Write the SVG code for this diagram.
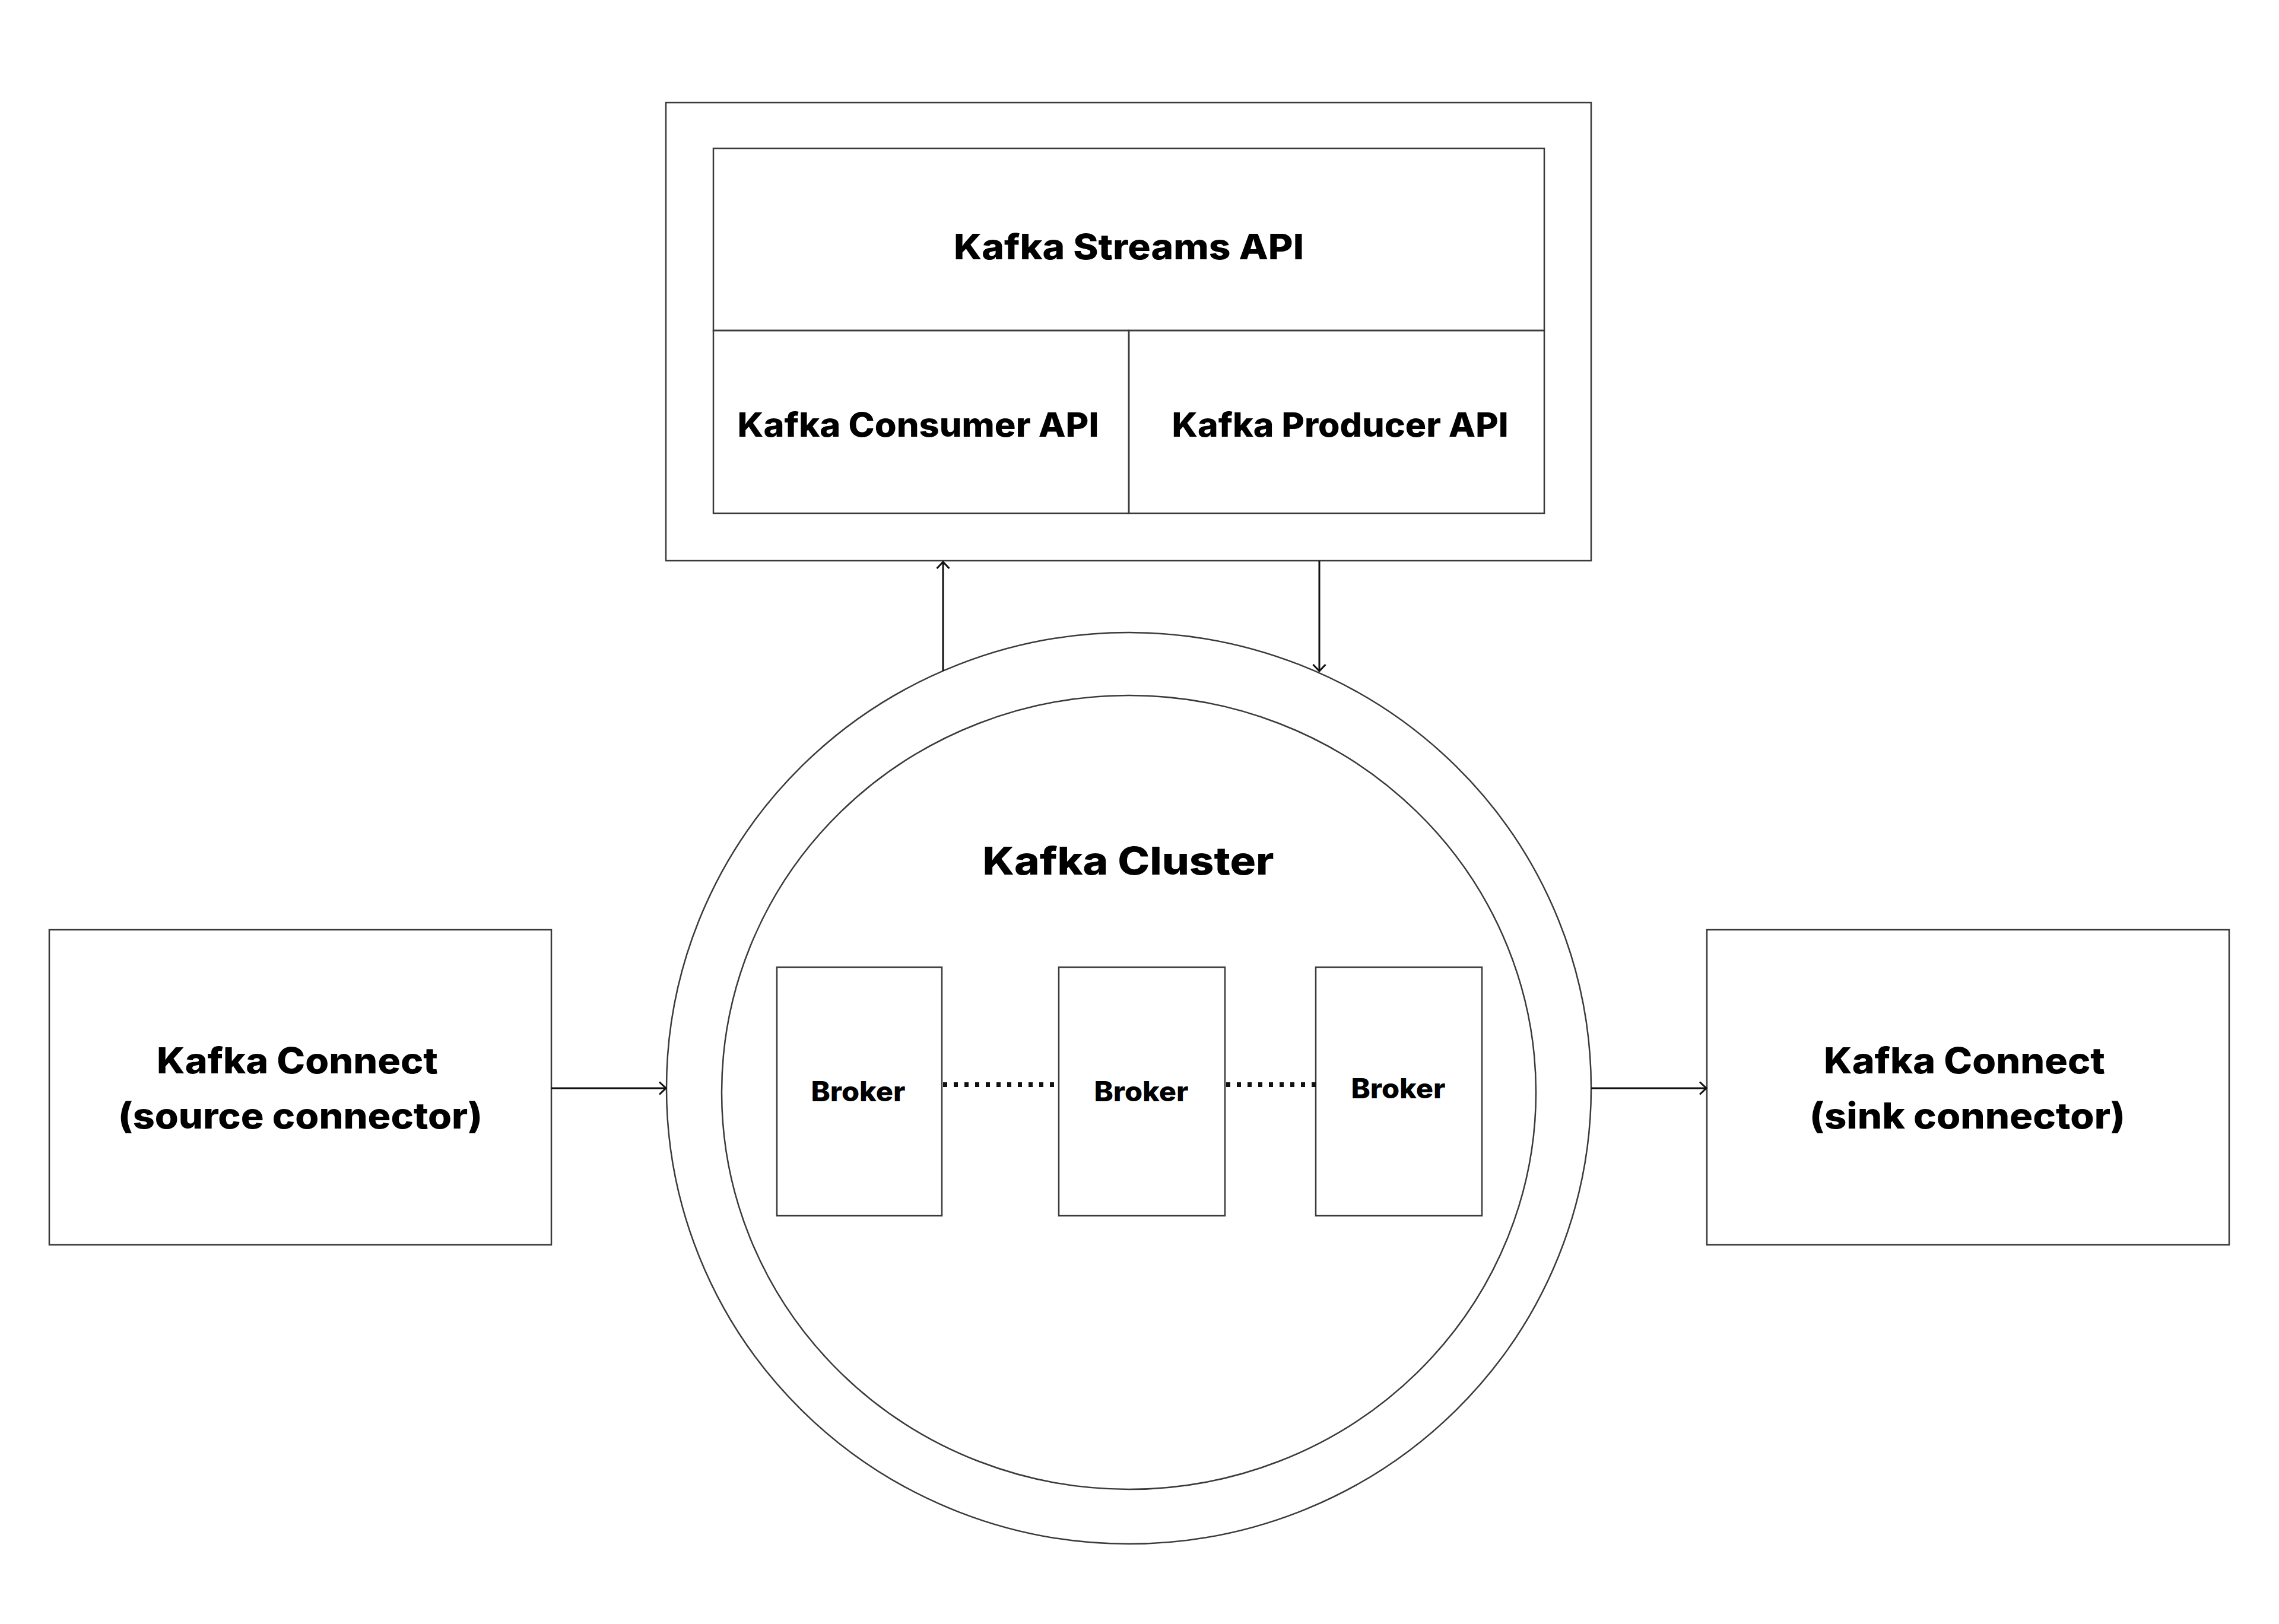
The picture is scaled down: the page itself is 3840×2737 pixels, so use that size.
<svg xmlns="http://www.w3.org/2000/svg" width="3840" height="2737" viewBox="0 0 3840 2737">
<style>
.box{fill:none;stroke:#3a3a3a;stroke-width:2.5}
.ring{fill:none;stroke:#3a3a3a;stroke-width:2.5}
.lbl{font-family:Inter,"Liberation Sans",sans-serif;font-weight:800;fill:#000;text-anchor:middle}
.arrow{fill:none;stroke:#111;stroke-width:3}
.dots{fill:none;stroke:#111;stroke-width:8;stroke-dasharray:7 11}
</style>
<defs>
<marker id="head" markerUnits="userSpaceOnUse" viewBox="0 0 14 24" markerWidth="14" markerHeight="24" refX="12" refY="12" orient="auto">
<path d="M1,1.5 L12,12 L1,22.5" fill="none" stroke="#111" stroke-width="3"/>
</marker>
</defs>
<rect width="3840" height="2737" fill="#fff"/>

<g id="client">
<rect class="box" x="1122" y="173" width="1559" height="772"/>
<g id="streams-api">
<rect class="box" x="1202" y="250" width="1400" height="307"/>
<text class="lbl" x="1902" y="437" font-size="59" textLength="590" lengthAdjust="spacingAndGlyphs">Kafka Streams API</text>
</g>
<g id="consumer-api">
<rect class="box" x="1202" y="557" width="700" height="308"/>
<text class="lbl" x="1547" y="736" font-size="56" textLength="609" lengthAdjust="spacingAndGlyphs">Kafka Consumer API</text>
</g>
<g id="producer-api">
<rect class="box" x="1902" y="557" width="700" height="308"/>
<text class="lbl" x="2258" y="736" font-size="56" textLength="567" lengthAdjust="spacingAndGlyphs">Kafka Producer API</text>
</g>
</g>

<g id="cluster">
<ellipse class="ring" cx="1902" cy="1834" rx="779" ry="768"/>
<ellipse class="ring" cx="1902" cy="1841" rx="686" ry="669"/>
<text class="lbl" x="1901" y="1474" font-size="65" textLength="491" lengthAdjust="spacingAndGlyphs">Kafka Cluster</text>
</g>

<g id="broker1">
<rect class="box" x="1309" y="1630" width="278" height="419"/>
<text class="lbl" x="1446" y="1856" font-size="46" textLength="159" lengthAdjust="spacingAndGlyphs">Broker</text>
</g>
<g id="broker2">
<rect class="box" x="1784" y="1630" width="280" height="419"/>
<text class="lbl" x="1923" y="1856" font-size="46" textLength="159" lengthAdjust="spacingAndGlyphs">Broker</text>
</g>
<g id="broker3">
<rect class="box" x="2217" y="1630" width="280" height="419"/>
<text class="lbl" x="2356" y="1851" font-size="46" textLength="159" lengthAdjust="spacingAndGlyphs">Broker</text>
</g>

<g id="source-connect">
<rect class="box" x="83" y="1567" width="846" height="531"/>
<text class="lbl" x="501" y="1809" font-size="60" textLength="474" lengthAdjust="spacingAndGlyphs">Kafka Connect</text>
<text class="lbl" x="506" y="1902" font-size="60" textLength="614" lengthAdjust="spacingAndGlyphs">(source connector)</text>
</g>

<g id="sink-connect">
<rect class="box" x="2876" y="1567" width="880" height="531"/>
<text class="lbl" x="3310" y="1809" font-size="60" textLength="474" lengthAdjust="spacingAndGlyphs">Kafka Connect</text>
<text class="lbl" x="3315" y="1902" font-size="60" textLength="532" lengthAdjust="spacingAndGlyphs">(sink connector)</text>
</g>

<g id="connectors">
<line class="arrow" x1="1589" y1="1131" x2="1589" y2="947" marker-end="url(#head)"/>
<line class="arrow" x1="2223" y1="945" x2="2223" y2="1131" marker-end="url(#head)"/>
<line class="arrow" x1="929" y1="1834" x2="1122" y2="1834" marker-end="url(#head)"/>
<line class="arrow" x1="2681" y1="1834" x2="2875" y2="1834" marker-end="url(#head)"/>
<line class="dots" x1="1589" y1="1828" x2="1784" y2="1828"/>
<line class="dots" x1="2066" y1="1828" x2="2224" y2="1828"/>
</g>
</svg>
